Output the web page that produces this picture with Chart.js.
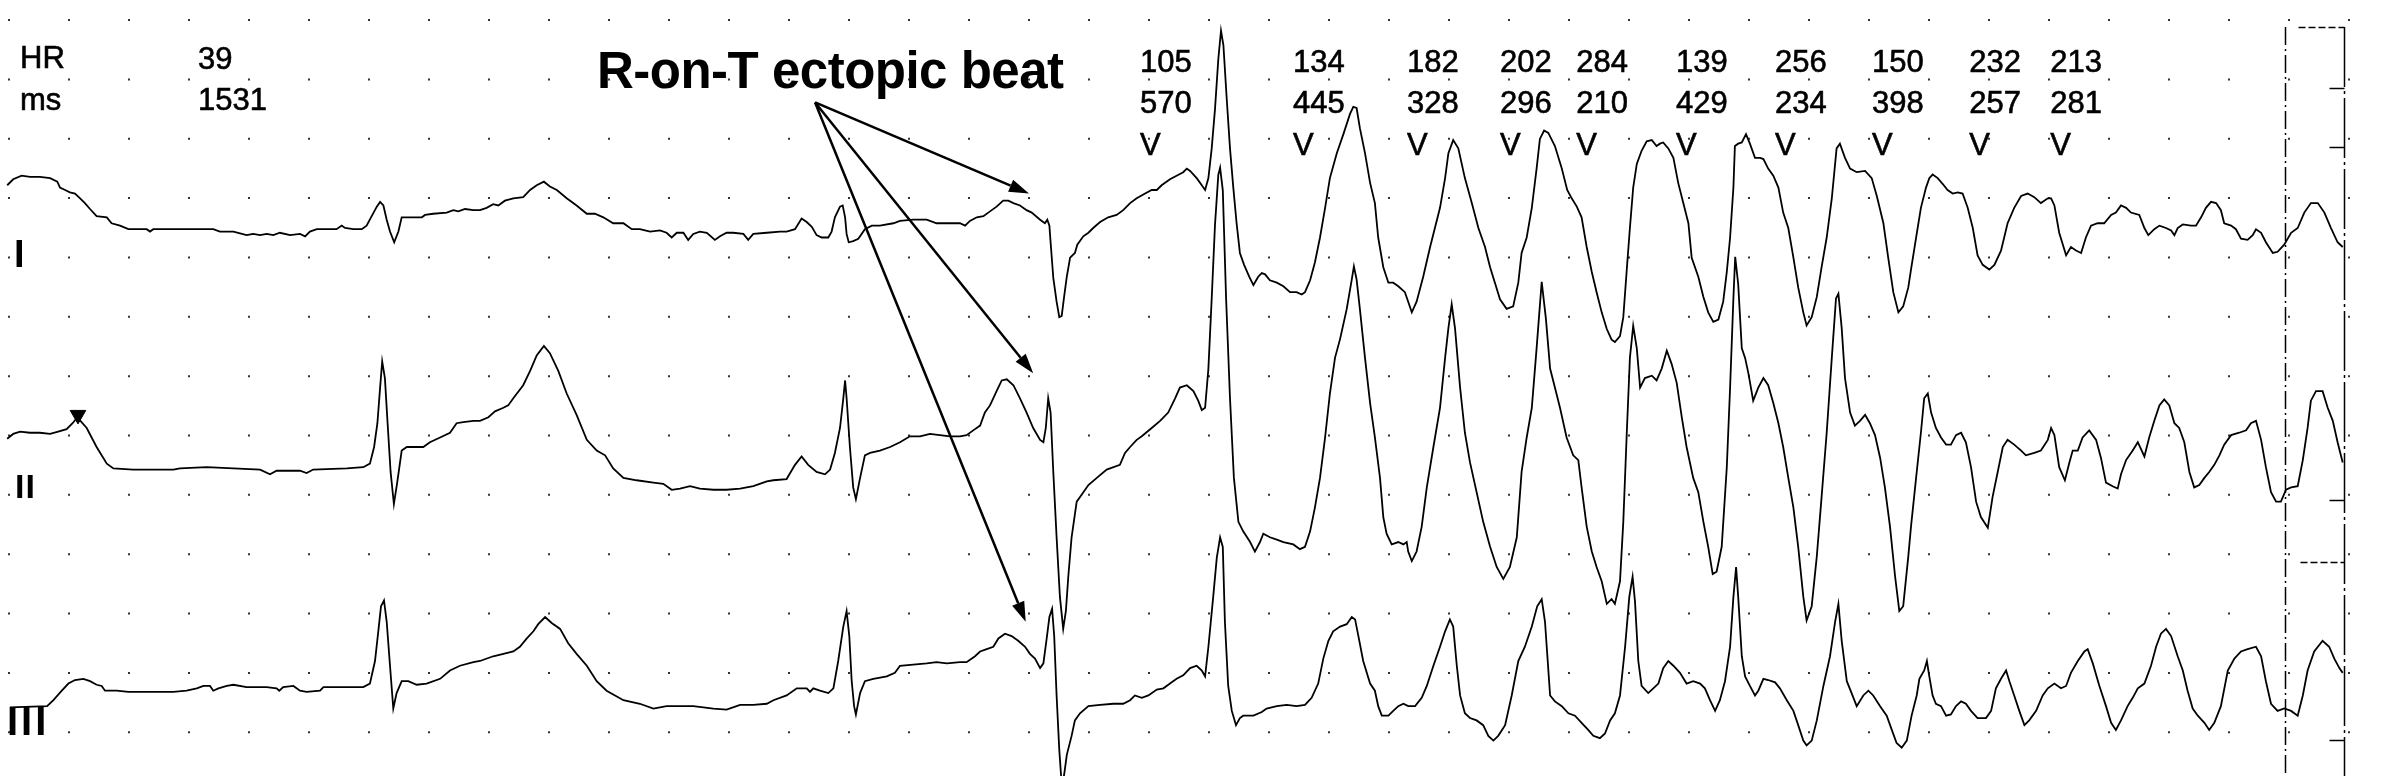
<!DOCTYPE html>
<html>
<head>
<meta charset="utf-8">
<title>R-on-T ectopic beat</title>
<script src="https://cdn.jsdelivr.net/npm/chart.js@4.4.1/dist/chart.umd.min.js"></script>
<style>
  html, body { margin: 0; padding: 0; background: #fff; }
  #wrap { width: 2391px; height: 776px; }
</style>
</head>
<body>
<div id="wrap"><canvas id="chart" width="2391" height="776"></canvas></div>
<script>
// ECG strip, leads I / II / III. Samples are [time (s), amplitude (mV)]
const leadNames = ["I", "II", "III"];

const leadI = [
  [-0.206,0.37],[-0.186,0.42],[-0.158,0.45],[-0.130,0.44],[-0.097,0.44],[-0.063,0.43],[-0.039,0.40],[-0.030,0.35],
  [-0.013,0.33],[0.003,0.31],[0.020,0.30],[0.037,0.26],[0.053,0.22],[0.070,0.17],[0.092,0.11],[0.126,0.10],
  [0.142,0.05],[0.170,0.03],[0.198,0.00],[0.259,0.00],[0.270,-0.02],[0.281,0.00],[0.392,0.00],[0.481,0.00],
  [0.503,-0.02],[0.548,-0.02],[0.592,-0.05],[0.614,-0.04],[0.637,-0.05],[0.659,-0.04],[0.681,-0.05],[0.703,-0.03],
  [0.737,-0.05],[0.770,-0.04],[0.787,-0.06],[0.803,-0.02],[0.826,0.00],[0.870,0.00],[0.892,0.00],[0.909,0.03],
  [0.920,0.01],[0.948,0.00],[0.976,0.00],[0.992,0.03],[1.009,0.11],[1.026,0.19],[1.037,0.23],[1.048,0.20],
  [1.059,0.08],[1.070,-0.02],[1.084,-0.11],[1.098,-0.02],[1.109,0.10],[1.159,0.10],[1.176,0.10],[1.187,0.12],
  [1.214,0.13],[1.259,0.14],[1.281,0.16],[1.298,0.15],[1.320,0.17],[1.348,0.16],
  [1.370,0.16],[1.392,0.18],[1.414,0.21],[1.431,0.20],[1.453,0.24],[1.481,0.26],[1.514,0.27],[1.537,0.33],
  [1.559,0.37],[1.583,0.40],[1.603,0.36],[1.626,0.33],[1.659,0.26],[1.692,0.20],[1.726,0.13],[1.753,0.13],
  [1.781,0.10],[1.814,0.05],[1.848,0.05],[1.876,0.00],[1.903,0.00],[1.937,-0.02],[1.970,-0.01],[1.992,-0.03],
  [2.009,-0.07],[2.026,-0.03],[2.048,-0.03],[2.064,-0.09],[2.081,-0.04],[2.103,-0.02],[2.126,-0.03],[2.153,-0.09],
  [2.170,-0.06],[2.192,-0.03],[2.214,-0.03],[2.248,-0.04],[2.264,-0.09],[2.281,-0.04],[2.326,-0.03],[2.370,-0.02],
  [2.392,-0.02],[2.420,0.00],[2.442,0.09],[2.459,0.06],[2.476,0.02],[2.492,-0.05],[2.509,-0.07],[2.531,-0.07],
  [2.542,-0.02],[2.553,0.10],[2.570,0.19],[2.579,0.20],[2.587,0.10],[2.592,-0.04],[2.599,-0.11],[2.614,-0.10],
  [2.631,-0.08],[2.653,0.00],[2.676,0.03],[2.703,0.03],[2.748,0.05],[2.770,0.07],[2.814,0.08],[2.859,0.08],
  [2.892,0.05],[2.937,0.05],
  [2.970,0.05],[2.987,0.03],[3.003,0.07],[3.026,0.10],[3.048,0.11],[3.070,0.15],[3.092,0.19],[3.114,0.24],
  [3.131,0.24],[3.148,0.22],[3.170,0.20],[3.192,0.16],[3.209,0.14],[3.237,0.08],[3.253,0.05],[3.261,0.08],
  [3.268,0.03],[3.272,-0.11],[3.281,-0.41],[3.292,-0.61],[3.301,-0.74],[3.309,-0.73],[3.317,-0.57],[3.326,-0.40],
  [3.337,-0.24],[3.353,-0.20],[3.361,-0.13],[3.381,-0.06],[3.398,-0.03],[3.414,0.01],[3.437,0.06],[3.464,0.10],
  [3.492,0.12],[3.514,0.16],[3.537,0.22],[3.559,0.26],[3.587,0.30],[3.609,0.33],[3.626,0.33],[3.642,0.37],
  [3.670,0.42],[3.692,0.45],[3.714,0.48],[3.726,0.51],[3.737,0.49],[3.759,0.43],[3.776,0.37],[3.787,0.33],
  [3.798,0.43],[3.809,0.68],[3.820,1.01],[3.831,1.43],[3.840,1.67],[3.848,1.55],[3.859,1.10],[3.870,0.68],
  [3.881,0.35],[3.892,0.05],[3.903,-0.20],[3.917,-0.30],[3.934,-0.40],[3.948,-0.47],[3.964,-0.40],[3.976,-0.37],
  [3.987,-0.38],[4.003,-0.43],[4.026,-0.45],[4.048,-0.48],[4.070,-0.53],[4.092,-0.53],[4.109,-0.55],[4.120,-0.53],
  [4.137,-0.43],[4.153,-0.28],[4.170,-0.07],[4.187,0.18],[4.203,0.43],[4.226,0.64],[4.248,0.80],[4.270,0.97],
  [4.281,1.03],[4.292,1.02],[4.303,0.85],[4.320,0.64],[4.337,0.39],[4.353,0.22],[4.364,-0.07],[4.381,-0.32],
  [4.398,-0.45],[4.414,-0.45],[4.431,-0.48],[4.453,-0.53],[4.464,-0.61],[4.476,-0.70],[4.492,-0.61],[4.514,-0.40],
  [4.537,-0.15],[4.553,0.01],
  [4.570,0.18],[4.587,0.43],[4.598,0.64],[4.614,0.75],[4.631,0.68],[4.653,0.43],[4.676,0.22],[4.698,0.01],
  [4.720,-0.15],[4.737,-0.32],[4.753,-0.45],[4.770,-0.59],[4.792,-0.67],[4.814,-0.65],[4.831,-0.45],[4.842,-0.20],
  [4.859,-0.07],[4.876,0.18],[4.892,0.51],[4.903,0.76],[4.917,0.83],[4.931,0.81],[4.953,0.70],[4.976,0.51],
  [4.994,0.33],[5.009,0.26],[5.026,0.19],[5.042,0.10],[5.059,-0.15],[5.076,-0.36],[5.092,-0.53],[5.109,-0.70],
  [5.126,-0.84],[5.142,-0.93],[5.153,-0.95],[5.170,-0.90],[5.181,-0.74],[5.192,-0.36],[5.203,0.01],[5.214,0.35],
  [5.226,0.55],[5.242,0.66],[5.259,0.74],[5.276,0.75],[5.292,0.70],[5.303,0.72],[5.314,0.73],[5.331,0.68],
  [5.348,0.60],[5.364,0.39],[5.381,0.22],[5.398,0.05],[5.409,-0.24],[5.431,-0.40],[5.448,-0.57],[5.464,-0.70],
  [5.481,-0.78],[5.498,-0.76],[5.514,-0.61],[5.526,-0.36],[5.537,-0.07],[5.548,0.35],[5.553,0.70],[5.564,0.72],
  [5.576,0.73],[5.590,0.80],[5.603,0.72],[5.620,0.60],[5.637,0.60],[5.648,0.59],[5.664,0.51],[5.681,0.45],
  [5.698,0.35],[5.714,0.14],[5.731,0.01],[5.748,-0.24],[5.764,-0.49],[5.781,-0.70],[5.792,-0.81],[5.809,-0.74],
  [5.826,-0.57],[5.842,-0.32],[5.859,-0.07],[5.876,0.26],[5.892,0.68],[5.903,0.72],[5.920,0.60],[5.937,0.51],
  [5.959,0.48],[5.987,0.49],[6.009,0.43],[6.026,0.28],[6.048,0.05],[6.064,-0.24],[6.081,-0.53],[6.098,-0.70],
  [6.114,-0.65],[6.131,-0.49],
  [6.140,-0.34],[6.157,-0.07],[6.173,0.18],[6.190,0.35],[6.201,0.43],[6.212,0.46],[6.229,0.43],[6.246,0.38],
  [6.262,0.33],[6.279,0.30],[6.296,0.31],[6.312,0.30],[6.329,0.18],[6.346,0.01],[6.362,-0.22],[6.379,-0.30],
  [6.401,-0.34],[6.418,-0.30],[6.440,-0.18],[6.462,0.05],[6.484,0.18],[6.507,0.28],[6.529,0.30],[6.551,0.27],
  [6.573,0.22],[6.596,0.26],[6.607,0.26],[6.618,0.20],[6.634,-0.03],[6.657,-0.22],[6.673,-0.15],[6.690,-0.18],
  [6.707,-0.20],[6.723,-0.07],[6.740,0.03],[6.762,0.05],[6.784,0.05],[6.807,0.12],[6.823,0.14],[6.840,0.20],
  [6.857,0.18],[6.873,0.14],[6.901,0.12],[6.918,0.01],[6.931,-0.05],[6.951,0.00],[6.968,0.03],[6.990,0.01],
  [7.007,-0.01],[7.018,-0.05],[7.029,0.01],[7.046,0.04],[7.073,0.03],[7.090,0.03],[7.107,0.10],[7.123,0.18],
  [7.140,0.23],[7.157,0.22],[7.173,0.16],[7.184,0.05],[7.207,0.03],[7.223,0.00],[7.240,-0.08],[7.262,-0.09],
  [7.279,-0.05],[7.290,0.00],[7.307,-0.03],[7.323,-0.11],[7.346,-0.20],[7.362,-0.19],[7.384,-0.13],[7.407,-0.03],
  [7.429,0.01],[7.451,0.14],[7.473,0.22],[7.496,0.22],[7.518,0.14],[7.540,0.01],[7.562,-0.11],[7.579,-0.15]
];

const leadII = [
  [-0.206,0.25],[-0.186,0.29],[-0.163,0.31],[-0.130,0.30],[-0.097,0.30],[-0.063,0.29],[-0.036,0.31],[-0.008,0.33],
  [0.012,0.38],[0.028,0.43],[0.059,0.34],[0.092,0.18],[0.126,0.04],[0.148,0.00],[0.214,-0.01],[0.348,-0.01],
  [0.370,0.00],[0.459,0.01],[0.548,0.00],[0.637,-0.01],[0.670,-0.05],[0.692,-0.02],[0.770,-0.02],[0.792,-0.04],
  [0.814,-0.01],[0.926,0.00],[0.981,0.01],[1.003,0.04],[1.017,0.18],[1.028,0.38],[1.037,0.68],[1.044,0.90],
  [1.053,0.76],[1.062,0.38],[1.072,-0.03],[1.083,-0.30],[1.094,-0.12],[1.109,0.15],[1.126,0.18],[1.181,0.18],
  [1.203,0.22],[1.237,0.26],[1.270,0.30],[1.292,0.38],[1.314,0.39],[1.348,0.40],
  [1.370,0.40],[1.398,0.43],[1.420,0.48],[1.448,0.51],[1.464,0.53],[1.481,0.59],[1.514,0.70],[1.537,0.82],
  [1.559,0.95],[1.583,1.03],[1.603,0.97],[1.631,0.82],[1.659,0.63],[1.692,0.45],[1.726,0.24],[1.759,0.15],
  [1.787,0.11],[1.814,0.00],[1.848,-0.08],[1.892,-0.10],[1.948,-0.12],[1.981,-0.13],[2.009,-0.18],[2.037,-0.17],
  [2.070,-0.15],[2.103,-0.17],[2.148,-0.18],[2.192,-0.18],[2.237,-0.17],[2.281,-0.15],[2.326,-0.11],[2.348,-0.10],
  [2.392,-0.09],[2.420,0.03],[2.442,0.10],[2.464,0.03],[2.492,-0.03],[2.520,-0.05],[2.537,-0.01],[2.553,0.13],
  [2.570,0.34],[2.581,0.59],[2.587,0.74],[2.592,0.59],[2.603,0.18],[2.614,-0.16],[2.623,-0.26],[2.637,-0.08],
  [2.653,0.11],[2.670,0.13],[2.703,0.15],[2.737,0.18],[2.770,0.22],[2.803,0.27],[2.837,0.27],[2.870,0.29],
  [2.903,0.28],[2.937,0.27],
  [2.970,0.27],[2.992,0.28],[3.014,0.32],[3.037,0.36],[3.053,0.47],[3.070,0.53],[3.092,0.65],[3.109,0.74],
  [3.126,0.75],[3.148,0.70],[3.170,0.59],[3.192,0.47],[3.214,0.34],[3.237,0.24],[3.248,0.22],[3.256,0.34],
  [3.264,0.59],[3.272,0.47],[3.281,-0.03],[3.292,-0.58],[3.303,-1.08],[3.314,-1.35],[3.323,-1.20],[3.331,-0.91],
  [3.342,-0.58],[3.359,-0.28],[3.376,-0.22],[3.398,-0.14],[3.426,-0.08],[3.459,-0.01],[3.503,0.03],[3.520,0.13],
  [3.537,0.18],[3.559,0.24],[3.576,0.27],[3.609,0.34],[3.637,0.40],[3.664,0.47],[3.687,0.59],[3.703,0.68],
  [3.726,0.70],[3.748,0.65],[3.764,0.57],[3.776,0.49],[3.787,0.51],[3.798,0.84],[3.809,1.43],[3.820,2.05],
  [3.831,2.47],[3.837,2.53],[3.846,2.34],[3.857,1.43],[3.870,0.59],[3.883,-0.08],[3.898,-0.45],[3.914,-0.53],
  [3.937,-0.62],[3.953,-0.70],[3.970,-0.62],[3.981,-0.55],[4.003,-0.58],[4.026,-0.60],[4.048,-0.62],[4.081,-0.64],
  [4.103,-0.68],[4.120,-0.66],[4.137,-0.53],[4.153,-0.33],[4.170,-0.08],[4.187,0.26],[4.203,0.63],[4.220,0.93],
  [4.237,1.09],[4.259,1.34],[4.276,1.59],[4.283,1.70],[4.292,1.59],[4.303,1.34],[4.320,0.93],[4.337,0.55],
  [4.353,0.26],[4.370,-0.08],[4.381,-0.41],[4.392,-0.55],[4.409,-0.64],[4.431,-0.62],[4.448,-0.64],[4.459,-0.62],
  [4.464,-0.70],[4.476,-0.78],[4.492,-0.70],[4.509,-0.49],[4.526,-0.16],[4.548,0.18],
  [4.570,0.51],[4.587,0.93],[4.598,1.18],[4.609,1.38],[4.620,1.18],[4.637,0.68],[4.653,0.30],[4.670,0.05],
  [4.692,-0.20],[4.714,-0.45],[4.737,-0.66],[4.759,-0.83],[4.781,-0.93],[4.803,-0.83],[4.826,-0.58],[4.842,-0.03],
  [4.859,0.26],[4.876,0.51],[4.892,1.01],[4.909,1.57],[4.923,1.26],[4.937,0.84],[4.953,0.68],[4.970,0.51],
  [4.992,0.26],[5.014,0.11],[5.031,0.07],[5.042,-0.16],[5.059,-0.49],[5.076,-0.70],[5.092,-0.83],[5.109,-0.95],
  [5.126,-1.14],[5.142,-1.10],[5.153,-1.14],[5.170,-0.95],[5.181,-0.45],[5.192,0.26],[5.203,0.93],[5.214,1.20],
  [5.226,1.01],[5.237,0.68],[5.253,0.76],[5.276,0.78],[5.292,0.74],[5.309,0.84],[5.326,0.99],[5.342,0.88],
  [5.359,0.72],[5.376,0.43],[5.392,0.18],[5.414,-0.08],[5.431,-0.20],[5.448,-0.45],[5.464,-0.66],[5.479,-0.89],
  [5.492,-0.87],[5.509,-0.66],[5.526,0.01],[5.537,0.68],[5.548,1.43],[5.554,1.78],[5.564,1.55],[5.576,1.01],
  [5.587,0.93],[5.598,0.80],[5.614,0.57],[5.631,0.68],[5.648,0.76],[5.664,0.70],[5.681,0.55],[5.698,0.38],
  [5.714,0.18],[5.731,-0.08],[5.748,-0.33],[5.764,-0.66],[5.781,-1.08],[5.792,-1.28],[5.809,-1.16],[5.826,-0.74],
  [5.842,-0.24],[5.859,0.30],[5.876,0.93],[5.890,1.43],[5.898,1.47],[5.909,1.18],[5.920,0.76],[5.937,0.47],
  [5.953,0.36],[5.970,0.40],[5.987,0.45],[6.003,0.38],[6.020,0.28],[6.037,0.09],[6.053,-0.16],[6.070,-0.49],
  [6.087,-0.91],[6.101,-1.20],[6.114,-1.16],[6.131,-0.74],
  [6.140,-0.49],[6.157,-0.08],[6.173,0.30],[6.184,0.59],[6.196,0.63],[6.207,0.47],[6.223,0.34],[6.240,0.26],
  [6.257,0.20],[6.273,0.20],[6.290,0.28],[6.307,0.30],[6.323,0.22],[6.340,0.01],[6.357,-0.28],[6.373,-0.41],
  [6.396,-0.50],[6.412,-0.24],[6.429,-0.03],[6.446,0.18],[6.462,0.24],[6.484,0.20],[6.507,0.15],[6.523,0.11],
  [6.551,0.13],[6.573,0.15],[6.596,0.24],[6.607,0.34],[6.618,0.28],[6.634,0.01],[6.653,-0.10],[6.668,0.05],
  [6.679,0.15],[6.696,0.15],[6.712,0.26],[6.734,0.32],[6.757,0.24],[6.773,0.09],[6.790,-0.12],[6.812,-0.15],
  [6.829,-0.17],[6.840,-0.05],[6.857,0.07],[6.879,0.15],[6.896,0.22],[6.918,0.10],[6.934,0.26],[6.951,0.40],
  [6.968,0.53],[6.984,0.58],[7.001,0.53],[7.018,0.38],[7.034,0.34],[7.051,0.22],[7.068,-0.03],[7.084,-0.16],
  [7.101,-0.14],[7.118,-0.08],[7.134,-0.03],[7.151,0.03],[7.168,0.11],[7.184,0.20],[7.207,0.28],[7.234,0.30],
  [7.257,0.32],[7.273,0.38],[7.290,0.40],[7.307,0.24],[7.323,0.01],[7.340,-0.20],[7.357,-0.28],[7.373,-0.28],
  [7.390,-0.18],[7.407,-0.16],[7.429,-0.15],[7.446,0.07],[7.462,0.34],[7.473,0.57],[7.490,0.65],[7.512,0.65],
  [7.529,0.51],[7.546,0.40],[7.562,0.22],[7.579,0.05]
];

const leadIII = [
  [-0.197,-0.16],[-0.073,-0.15],[-0.052,-0.10],[-0.024,-0.02],[-0.002,0.04],[0.020,0.07],[0.048,0.08],[0.070,0.06],
  [0.092,0.03],[0.109,0.02],[0.120,-0.02],[0.159,-0.02],[0.198,-0.03],[0.270,-0.03],[0.348,-0.03],[0.392,-0.02],
  [0.426,0.00],[0.448,0.02],[0.470,0.02],[0.481,-0.02],[0.498,0.00],[0.526,0.02],[0.548,0.03],[0.592,0.01],
  [0.659,0.01],[0.692,0.00],[0.701,-0.02],[0.714,0.01],[0.748,0.02],[0.770,-0.02],[0.792,-0.03],[0.837,-0.02],
  [0.848,0.01],[0.881,0.01],[0.981,0.01],[1.003,0.04],[1.020,0.23],[1.031,0.48],[1.040,0.69],[1.050,0.74],
  [1.059,0.56],[1.070,0.19],[1.081,-0.17],[1.092,-0.04],[1.109,0.06],[1.131,0.06],[1.159,0.03],[1.192,0.04],
  [1.237,0.08],[1.270,0.15],[1.303,0.19],[1.348,0.22],
  [1.370,0.23],[1.414,0.27],[1.448,0.29],[1.481,0.31],[1.503,0.35],[1.526,0.42],[1.548,0.48],[1.564,0.54],
  [1.587,0.60],[1.609,0.55],[1.637,0.50],[1.664,0.38],[1.692,0.29],[1.726,0.19],[1.759,0.06],[1.792,-0.02],
  [1.848,-0.10],[1.903,-0.13],[1.948,-0.17],[1.992,-0.15],[2.037,-0.15],[2.081,-0.15],[2.148,-0.17],[2.192,-0.18],
  [2.237,-0.14],[2.281,-0.14],[2.326,-0.13],[2.348,-0.10],[2.392,-0.06],[2.426,0.00],[2.459,0.00],[2.470,-0.03],
  [2.481,0.00],[2.503,-0.02],[2.531,-0.04],[2.548,0.00],[2.564,0.23],[2.581,0.52],[2.592,0.65],[2.601,0.44],
  [2.609,0.06],[2.617,-0.15],[2.623,-0.22],[2.637,-0.04],[2.653,0.06],[2.681,0.08],[2.726,0.10],[2.753,0.13],
  [2.770,0.19],[2.814,0.20],[2.859,0.21],[2.892,0.22],[2.926,0.21],
  [2.970,0.22],[2.992,0.22],[3.020,0.27],[3.037,0.31],[3.059,0.33],[3.081,0.35],[3.098,0.42],[3.120,0.46],
  [3.142,0.44],[3.164,0.40],[3.187,0.35],[3.203,0.29],[3.220,0.25],[3.237,0.17],[3.248,0.21],[3.259,0.42],
  [3.268,0.60],[3.277,0.67],[3.284,0.44],[3.292,-0.06],[3.301,-0.52],[3.309,-0.81],[3.317,-0.73],[3.326,-0.56],
  [3.342,-0.40],[3.353,-0.27],[3.370,-0.21],[3.398,-0.15],[3.437,-0.14],[3.481,-0.13],[3.514,-0.13],[3.537,-0.10],
  [3.553,-0.06],[3.576,-0.08],[3.598,-0.06],[3.626,-0.01],[3.648,0.00],[3.670,0.04],[3.692,0.08],[3.714,0.11],
  [3.737,0.17],[3.759,0.19],[3.776,0.15],[3.787,0.10],[3.798,0.35],[3.814,0.77],[3.826,1.10],[3.837,1.27],
  [3.846,1.19],[3.853,0.56],[3.864,0.02],[3.876,-0.19],[3.890,-0.31],[3.903,-0.25],[3.914,-0.23],[3.948,-0.23],
  [3.976,-0.20],[3.992,-0.17],[4.026,-0.15],[4.059,-0.14],[4.092,-0.15],[4.120,-0.14],[4.142,-0.08],[4.164,0.04],
  [4.181,0.25],[4.198,0.40],[4.214,0.48],[4.237,0.52],[4.259,0.54],[4.276,0.60],[4.287,0.58],[4.298,0.44],
  [4.314,0.23],[4.337,0.04],[4.353,-0.02],[4.364,-0.15],[4.376,-0.23],[4.398,-0.23],[4.414,-0.19],[4.431,-0.15],
  [4.448,-0.13],[4.464,-0.15],[4.487,-0.15],[4.509,-0.08],[4.526,0.02],[4.548,0.19],
  [4.570,0.35],[4.587,0.48],[4.603,0.58],[4.614,0.52],[4.626,0.19],[4.637,-0.06],[4.653,-0.21],[4.670,-0.25],
  [4.692,-0.27],[4.714,-0.31],[4.731,-0.40],[4.748,-0.44],[4.764,-0.40],[4.787,-0.31],[4.809,-0.06],[4.831,0.23],
  [4.853,0.35],[4.876,0.52],[4.894,0.69],[4.909,0.75],[4.920,0.56],[4.937,-0.06],[4.953,-0.11],[4.976,-0.15],
  [4.998,-0.21],[5.020,-0.23],[5.042,-0.29],[5.064,-0.35],[5.081,-0.40],[5.103,-0.42],[5.120,-0.38],[5.137,-0.27],
  [5.153,-0.21],[5.170,-0.06],[5.187,0.35],[5.201,0.77],[5.212,0.94],[5.220,0.73],[5.231,0.23],[5.242,0.02],
  [5.264,-0.04],[5.281,0.00],[5.298,0.04],[5.314,0.17],[5.331,0.23],[5.348,0.19],[5.370,0.13],[5.392,0.04],
  [5.414,0.06],[5.437,0.04],[5.453,0.00],[5.470,-0.10],[5.487,-0.19],[5.503,-0.10],[5.520,0.06],[5.537,0.35],
  [5.548,0.77],[5.557,1.02],[5.564,0.77],[5.576,0.27],[5.587,0.10],[5.603,0.02],[5.620,-0.06],[5.631,-0.02],
  [5.648,0.08],[5.664,0.07],[5.687,0.05],[5.703,0.00],[5.726,-0.10],[5.748,-0.19],[5.764,-0.31],[5.781,-0.44],
  [5.792,-0.48],[5.809,-0.44],[5.826,-0.27],[5.848,0.02],[5.870,0.27],[5.887,0.56],[5.898,0.71],[5.909,0.40],
  [5.926,0.06],[5.942,-0.04],[5.959,-0.15],[5.981,-0.06],[5.998,-0.02],[6.014,-0.06],[6.037,-0.15],[6.059,-0.23],
  [6.076,-0.35],[6.092,-0.46],[6.109,-0.50],[6.126,-0.44],[6.142,-0.23],[6.159,-0.06],
  [6.168,0.08],[6.184,0.15],[6.193,0.23],[6.201,0.10],[6.212,-0.06],[6.223,-0.13],[6.240,-0.15],[6.257,-0.23],
  [6.273,-0.22],[6.290,-0.15],[6.307,-0.11],[6.323,-0.13],[6.340,-0.19],[6.362,-0.25],[6.390,-0.25],[6.407,-0.19],
  [6.423,0.00],[6.440,0.08],[6.457,0.15],[6.468,0.06],[6.484,-0.06],[6.501,-0.19],[6.518,-0.31],[6.534,-0.27],
  [6.557,-0.19],[6.579,-0.06],[6.596,0.00],[6.618,0.04],[6.640,0.00],[6.657,0.02],[6.673,0.13],[6.696,0.23],
  [6.718,0.31],[6.729,0.33],[6.746,0.21],[6.768,0.02],[6.790,-0.15],[6.807,-0.29],[6.823,-0.35],[6.840,-0.27],
  [6.862,-0.15],[6.879,-0.08],[6.896,0.00],[6.918,0.04],[6.940,0.19],[6.957,0.35],[6.973,0.46],[6.990,0.50],
  [7.007,0.44],[7.029,0.27],[7.046,0.15],[7.062,-0.02],[7.079,-0.17],[7.096,-0.23],[7.118,-0.29],[7.134,-0.35],
  [7.151,-0.29],[7.173,-0.15],[7.196,0.15],[7.218,0.25],[7.240,0.31],[7.262,0.33],[7.290,0.35],[7.307,0.27],
  [7.323,0.06],[7.340,-0.13],[7.362,-0.19],[7.384,-0.17],[7.407,-0.19],[7.429,-0.23],[7.446,-0.06],[7.462,0.15],
  [7.484,0.31],[7.512,0.40],[7.534,0.35],[7.551,0.25],[7.568,0.17],[7.579,0.13]
];

// event marker on lead II
const eventMarker = [[0.03, 0.45]];

// header and beat annotations
const headerRate = 39;
const headerInterval = 1531;
const beatTimes = [3.570, 4.080, 4.460, 4.770, 5.024, 5.357, 5.687, 6.010, 6.334, 6.604];
const beatRates = [105, 134, 182, 202, 284, 139, 256, 150, 232, 213];
const beatIntervals = [570, 445, 328, 296, 210, 429, 234, 398, 257, 281];
const beatTypes = ["V", "V", "V", "V", "V", "V", "V", "V", "V", "V"];

// annotation: arrows from the note to the ectopic beat on each lead
const noteText = "R-on-T ectopic beat";
const noteFrom = [2.487, 1.067];                       // on lead I scale
const noteTargets = [[3.200, 0.30], [3.214, 0.80], [3.189, 0.56]];

const leadAxes = ["yI", "yII", "yIII"];
const FONT = '"Liberation Sans", Arial, Helvetica, sans-serif';

function drawArrow(ctx, x0, y0, x1, y1) {
  const a = Math.atan2(y1 - y0, x1 - x0);
  const len = 20, half = 6.5;
  const bx = x1 - len * Math.cos(a), by = y1 - len * Math.sin(a);
  ctx.beginPath();
  ctx.moveTo(x0, y0);
  ctx.lineTo(bx, by);
  ctx.stroke();
  ctx.beginPath();
  ctx.moveTo(x1, y1);
  ctx.lineTo(bx - half * Math.sin(a), by + half * Math.cos(a));
  ctx.lineTo(bx + half * Math.sin(a), by - half * Math.cos(a));
  ctx.closePath();
  ctx.fill();
}

// printed text is a little heavier than the plain font
function label(ctx, text, x, y) {
  ctx.fillText(text, x, y);
  ctx.strokeText(text, x, y);
}

const stripDecor = {
  id: 'stripDecor',
  afterDatasetsDraw(chart) {
    const {ctx, scales} = chart;
    const xs = scales.x;
    ctx.save();
    ctx.strokeStyle = '#000';
    ctx.fillStyle = '#000';

    // end of strip frame
    const xDash = Math.round(xs.getPixelForValue(7.387)) + 0.5;
    const xEdge = Math.round(xs.getPixelForValue(7.583)) + 0.5;
    ctx.lineWidth = 1.5;
    ctx.setLineDash([18, 4, 2, 4]);
    ctx.beginPath(); ctx.moveTo(xDash, 27); ctx.lineTo(xDash, 776); ctx.stroke();
    ctx.setLineDash([60, 4, 3, 4]);
    ctx.beginPath(); ctx.moveTo(xEdge, 27); ctx.lineTo(xEdge, 776); ctx.stroke();
    ctx.setLineDash([7, 3]);
    ctx.beginPath(); ctx.moveTo(xEdge - 46, 27.5); ctx.lineTo(xEdge, 27.5); ctx.stroke();
    ctx.beginPath(); ctx.moveTo(xEdge - 44, 562.5); ctx.lineTo(xEdge, 562.5); ctx.stroke();
    ctx.setLineDash([]);
    [88, 147, 500, 740].forEach(y => {
      ctx.beginPath(); ctx.moveTo(xEdge - 15, y + 0.5); ctx.lineTo(xEdge, y + 0.5); ctx.stroke();
    });

    // header
    ctx.textAlign = 'left';
    ctx.textBaseline = 'alphabetic';
    ctx.font = '31px ' + FONT;
    ctx.lineWidth = 0.6;
    label(ctx, 'HR', 20, 68);
    label(ctx, String(headerRate), 198, 69);
    label(ctx, 'ms', 20, 110);
    label(ctx, String(headerInterval), 198, 110);

    beatTimes.forEach((t, i) => {
      const px = xs.getPixelForValue(t);
      label(ctx, String(beatRates[i]), px, 72);
      label(ctx, String(beatIntervals[i]), px, 113);
      label(ctx, beatTypes[i], px, 155);
    });

    // lead names
    ctx.font = 'bold 38px ' + FONT;
    ctx.fillText(leadNames[0], 14, 267);
    ctx.font = 'bold 34px ' + FONT;
    ctx.letterSpacing = '1px';
    ctx.fillText(leadNames[1], 15, 498);
    ctx.font = 'bold 40px ' + FONT;
    ctx.letterSpacing = '3px';
    ctx.fillText(leadNames[2], 7, 735);
    ctx.letterSpacing = '0px';

    // note and arrows
    ctx.font = 'bold 51px ' + FONT;
    ctx.letterSpacing = '-0.5px';
    ctx.fillText(noteText, 597, 88);
    ctx.letterSpacing = '0px';
    ctx.lineWidth = 2.5;
    const fx = xs.getPixelForValue(noteFrom[0]);
    const fy = scales.yI.getPixelForValue(noteFrom[1]);
    noteTargets.forEach((p, i) => {
      const tx = xs.getPixelForValue(p[0]);
      const ty = scales[leadAxes[i]].getPixelForValue(p[1]);
      drawArrow(ctx, fx, fy, tx, ty);
    });
    ctx.restore();
  }
};

const toXY = arr => arr.map(([t, v]) => ({x: t, y: v}));

const traceStyle = {
  borderColor: '#000',
  borderWidth: 1.8,
  pointRadius: 0,
  tension: 0,
  fill: false,
  clip: false
};

new Chart(document.getElementById('chart'), {
  type: 'line',
  data: {
    datasets: [
      {label: leadNames[0], data: toXY(leadI), yAxisID: 'yI', ...traceStyle},
      {label: leadNames[1], data: toXY(leadII), yAxisID: 'yII', ...traceStyle},
      {label: leadNames[2], data: toXY(leadIII), yAxisID: 'yIII', ...traceStyle},
      {label: 'event', data: toXY(eventMarker), yAxisID: 'yII', showLine: false,
       pointStyle: 'triangle', rotation: 180, pointRadius: 9,
       backgroundColor: '#000', borderColor: '#000', borderWidth: 1, clip: false}
    ]
  },
  options: {
    responsive: false,
    animation: false,
    events: [],
    layout: {padding: 0, autoPadding: false},
    plugins: {legend: {display: false}, tooltip: {enabled: false}},
    scales: {
      x: {
        type: 'linear',
        min: -0.23,
        max: 7.74,
        ticks: {display: false, stepSize: 0.2, includeBounds: false},
        grid: {color: '#333', lineWidth: 2, drawTicks: false},
        border: {display: false, dash: [2, 57.35], dashOffset: 40.3}
      },
      yI:   {type: 'linear', display: false, min: -4.602, max: 1.929},
      yII:  {type: 'linear', display: false, min: -2.589, max: 3.942},
      yIII: {type: 'linear', display: false, min: -0.738, max: 5.794}
    }
  },
  plugins: [stripDecor]
});
</script>
</body>
</html>
